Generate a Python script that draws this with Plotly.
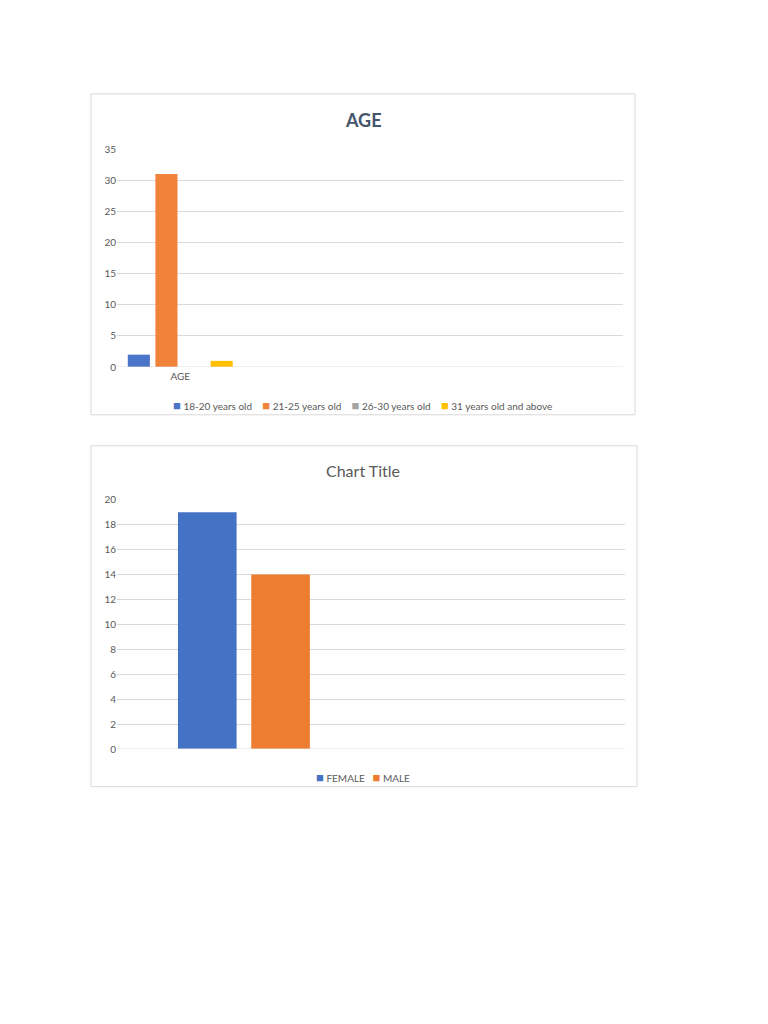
import plotly.graph_objects as go

# --- data -------------------------------------------------------------
AGE_CATEGORY = ["AGE"]
AGE_GROUPS = ["18-20 years old", "21-25 years old", "26-30 years old", "31 years old and above"]
AGE_COUNTS = [2, 31, 0, 1]
AGE_COLORS = ["#4A75C8", "#F1823A", "#A5A5A5", "#FFC000"]

GENDER_CATEGORY = ["GENDER"]
GENDERS = ["FEMALE", "MALE"]
GENDER_COUNTS = [19, 14]
GENDER_COLORS = ["#4472C4", "#ED7D31"]

# page is 768x1024, the browser adds an 8px body margin;
# keep the figure short enough that the page never scrolls
W, H = 752, 980
OFF = 8
FONT = "Lato, 'Open Sans', sans-serif"
TEXT = "#595959"
GRID = "#D9D9D9"
NB = "\u00a0"


def px_x(v):
    return (v - OFF) / W


def px_y(v):
    # small vertical correction measured from the previous render
    page = (v - 7.2) / 0.987
    return 1 - (page - OFF) / H


def legend_text(names, colors, gap=3):
    parts = [f"<span style='color:{c}; font-size:13px'>■</span>{NB}{n}" for n, c in zip(names, colors)]
    return (NB * gap).join(parts)


fig = go.Figure()

# chart 1 — age
for name, val, col in zip(AGE_GROUPS, AGE_COUNTS, AGE_COLORS):
    fig.add_trace(go.Bar(x=AGE_CATEGORY, y=[val], name=name, marker_color=col,
                         marker_line_width=0, xaxis="x", yaxis="y"))

# chart 2 — gender
for name, val, col in zip(GENDERS, GENDER_COUNTS, GENDER_COLORS):
    fig.add_trace(go.Bar(x=GENDER_CATEGORY, y=[val], name=name, marker_color=col,
                         marker_line_width=0, xaxis="x2", yaxis="y2"))

axis_common = dict(showline=False, zeroline=False, ticks="",
                   tickfont=dict(family=FONT, size=10, color=TEXT))

fig.update_layout(
    width=W, height=H,
    margin=dict(l=0, r=0, t=0, b=0),
    paper_bgcolor="white", plot_bgcolor="white",
    barmode="group", bargap=0.127, bargroupgap=0.2,
    font=dict(family=FONT, color=TEXT),
    showlegend=False,
    xaxis=dict(domain=[px_x(117), px_x(623)], anchor="y",
               range=[-0.5, 3.5], showgrid=False, ticklabelstandoff=2, **axis_common),
    yaxis=dict(domain=[px_y(367.3), px_y(149.3)], anchor="x",
               range=[0, 35], dtick=5, showgrid=True, gridcolor=GRID, gridwidth=1,
               **axis_common),
    xaxis2=dict(domain=[px_x(117), px_x(625)], anchor="y2",
                range=[-0.756, 2.27], showgrid=False, showticklabels=False,
                **axis_common),
    yaxis2=dict(domain=[px_y(749.3), px_y(500)], anchor="x2",
                range=[0, 20], dtick=2, showgrid=True, gridcolor=GRID, gridwidth=1,
                **axis_common),
)

# chart borders
fig.add_shape(type="rect", xref="paper", yref="paper",
              x0=px_x(91), x1=px_x(635), y0=px_y(415), y1=px_y(94),
              line=dict(color=GRID, width=1), layer="below")
fig.add_shape(type="rect", xref="paper", yref="paper",
              x0=px_x(91), x1=px_x(637), y0=px_y(787), y1=px_y(446),
              line=dict(color=GRID, width=1), layer="below")

# baselines
fig.add_shape(type="line", xref="x domain", yref="y", x0=0, x1=1, y0=0, y1=0,
              line=dict(color=GRID, width=1))
fig.add_shape(type="line", xref="x2 domain", yref="y2", x0=0, x1=1, y0=0, y1=0,
              line=dict(color=GRID, width=1))

# titles
fig.add_annotation(text="<b>AGE</b>", xref="paper", yref="paper",
                   x=px_x(363), y=px_y(120), showarrow=False, yanchor="middle",
                   font=dict(family=FONT, size=18, color="#44546A"))
fig.add_annotation(text="Chart Title", xref="paper", yref="paper",
                   x=px_x(363), y=px_y(471), showarrow=False, yanchor="middle",
                   font=dict(family=FONT, size=16, color=TEXT))

# legends
fig.add_annotation(text=legend_text(AGE_GROUPS, AGE_COLORS, gap=4), xref="paper", yref="paper",
                   x=px_x(362), y=px_y(405), showarrow=False, yanchor="middle",
                   font=dict(family=FONT, size=10, color=TEXT))
fig.add_annotation(text=legend_text(GENDERS, GENDER_COLORS, gap=3), xref="paper", yref="paper",
                   x=px_x(363), y=px_y(777), showarrow=False, yanchor="middle",
                   font=dict(family=FONT, size=10, color=TEXT))

fig.write_html("out.html")
